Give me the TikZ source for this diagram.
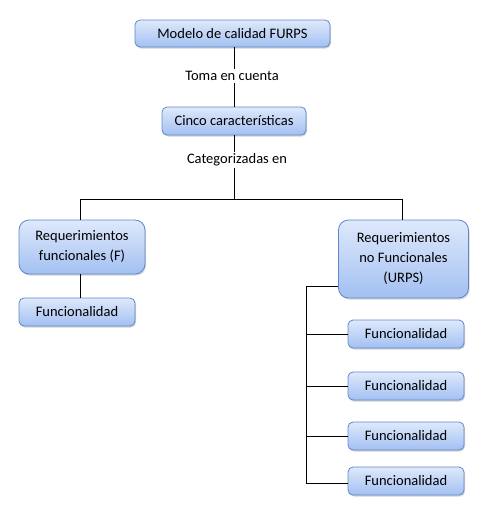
\documentclass[tikz,border=0pt]{standalone}
\usepackage{fontspec}
\setmainfont{Carlito}
\usetikzlibrary{shadows}
\definecolor{boxtop}{RGB}{222,233,251}
\definecolor{boxbot}{RGB}{163,192,242}
\definecolor{boxline}{RGB}{95,135,205}
\tikzset{
  box/.style={draw=boxline, line width=0.8pt, top color=boxtop, bottom color=boxbot,
    rounded corners=5pt, font=\fontsize{14.5}{20}\selectfont, align=center, inner sep=2pt,
    drop shadow={opacity=0.35, shadow xshift=1pt, shadow yshift=-1.5pt}},
  bigbox/.style={box, rounded corners=10pt},
  conn/.style={draw=black, line width=0.8pt},
  lbl/.style={fill=white, font=\fontsize{14.5}{17}\selectfont, inner sep=2pt}
}
\begin{document}
\begin{tikzpicture}[x=1pt,y=-1pt]
\useasboundingbox (0,0) rectangle (485,517);
\node[box, minimum width=195pt, minimum height=27pt] (top) at (232.5,33.5) {Modelo de calidad FURPS};
\node[box, minimum width=144pt, minimum height=28pt] (cinco) at (234,121) {Cinco características};
\node[bigbox, minimum width=126pt, minimum height=54pt] (lreq) at (82,247) {Requerimientos\\funcionales (F)};
\node[box, minimum width=116pt, minimum height=28pt] (lf) at (77,312) {Funcionalidad};
\node[bigbox, minimum width=130pt, minimum height=78pt] (rreq) at (403.5,259) {Requerimientos\\no Funcionales\\(URPS)};
\node[box, minimum width=116pt, minimum height=28pt] (f1) at (406,334) {Funcionalidad};
\node[box, minimum width=116pt, minimum height=28pt] (f2) at (406,386) {Funcionalidad};
\node[box, minimum width=116pt, minimum height=28pt] (f3) at (406,436) {Funcionalidad};
\node[box, minimum width=116pt, minimum height=28pt] (f4) at (406,481) {Funcionalidad};
\coordinate (j) at (234,199);
\coordinate (jl) at (80,199);
\coordinate (jr) at (402,199);
\coordinate (rt) at (306,286);
\coordinate (rb) at (306,483);
\draw[conn] (top.south -| j) -- (cinco.north -| j);
\draw[conn] (cinco.south -| j) -- (j);
\draw[conn] (jl) -- (jr);
\draw[conn] (jl) -- (jl |- lreq.north);
\draw[conn] (jr) -- (jr |- rreq.north);
\draw[conn] (jl |- lreq.south) -- (jl |- lf.north);
\draw[conn] (rreq.west |- rt) -- (rt) -- (rb) -- (rb -| f4.west);
\draw[conn] (rt |- f1) -- (f1.west);
\draw[conn] (rt |- f2) -- (f2.west);
\draw[conn] (rt |- f3) -- (f3.west);
\node[lbl] (l1) at (232,76) {Toma en cuenta};
\node[lbl] (l2) at (237,160) {Categorizadas en};
\end{tikzpicture}
\end{document}
